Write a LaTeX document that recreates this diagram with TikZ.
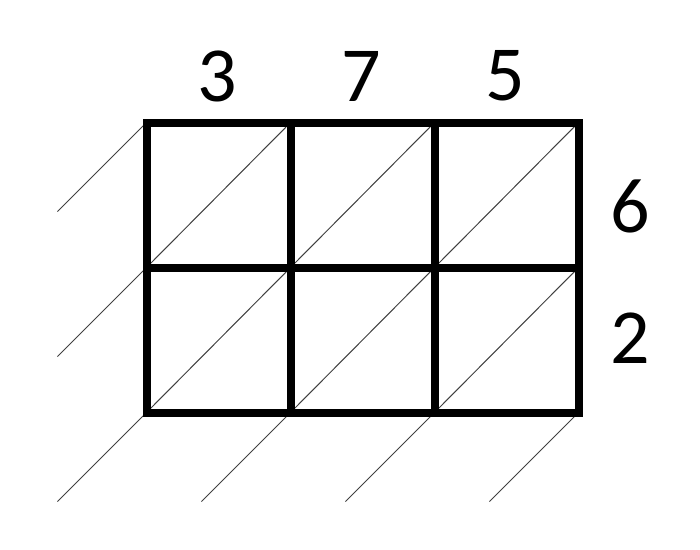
\documentclass[tikz,border=0pt]{standalone}
\usepackage{fontspec}
\setmainfont{Carlito}
\begin{document}
\begin{tikzpicture}[x=1pt,y=-1pt,
  thin diag/.style={draw=black!75,line width=1pt},
  grid line/.style={draw=black,line width=8pt,line cap=rect,line join=miter},
  digit/.style={font=\fontsize{78}{90}\selectfont,inner sep=0pt,anchor=center}]
\useasboundingbox (0,0) rectangle (700,549);
% grid corner coordinates
\foreach \i/\x in {0/146.5,1/290.5,2/434.5,3/578.5}{
  \foreach \j/\y in {0/122.5,1/267.5,2/412.5}{
    \coordinate (p\i\j) at (\x,\y);
  }
}
% diagonals inside cells
\foreach \i/\k in {0/1,1/2,2/3}{
  \foreach \j/\m in {0/1,1/2}{
    \draw[thin diag] (p\i\m) -- (p\k\j);
  }
}
% outside extensions
\coordinate (e0) at (57.5,211.5);
\coordinate (e1) at (57.5,356.5);
\coordinate (e2) at (57.5,501.5);
\coordinate (e3) at (201.5,501.5);
\coordinate (e4) at (345.5,501.5);
\coordinate (e5) at (489.5,501.5);
\draw[thin diag] (p00) -- (e0);
\draw[thin diag] (p01) -- (e1);
\draw[thin diag] (p02) -- (e2);
\draw[thin diag] (p12) -- (e3);
\draw[thin diag] (p22) -- (e4);
\draw[thin diag] (p32) -- (e5);
% grid
\draw[grid line] (p00) rectangle (p32);
\draw[grid line] (p01) -- (p31);
\draw[grid line] (p10) -- (p12);
\draw[grid line] (p20) -- (p22);
% digits
\node[digit] (t3) at (217,76) {3};
\node[digit] (t7) at (361,76) {7};
\node[digit] (t5) at (505,76) {5};
\node[digit] (r6) at (630,206) {6};
\node[digit] (r2) at (630,338) {2};
\end{tikzpicture}
\end{document}
